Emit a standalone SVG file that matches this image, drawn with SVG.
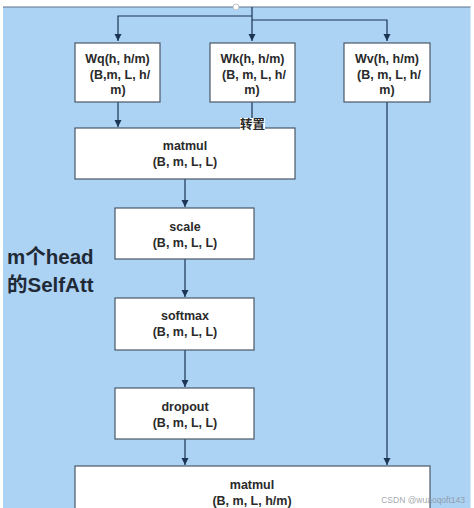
<svg xmlns="http://www.w3.org/2000/svg" width="474" height="508" viewBox="0 0 474 508">
<defs>
<marker id="arr" markerWidth="8" markerHeight="8" refX="7" refY="4" orient="auto" markerUnits="userSpaceOnUse">
<path d="M0,0.5 L7,4 L0,7.5 z" fill="#1c3553"/>
</marker>
<style>
.box{fill:#ffffff;stroke:#4a5866;stroke-width:1.2}
.t{font-family:"Liberation Sans",Arial,"Noto Sans CJK SC",sans-serif;font-weight:bold;font-size:12.5px;fill:#2a2a2a;text-anchor:middle}
.c{fill:none;stroke:#1c3553;stroke-width:1.2}
.big{font-family:"Liberation Sans",Arial,"Noto Sans CJK SC",sans-serif;font-weight:bold;font-size:20.5px;fill:#1f2a36}
</style>
</defs>
<rect x="0" y="0" width="474" height="508" fill="#ffffff"/>
<rect x="3" y="7" width="467.5" height="501" fill="#acd2f4"/>
<line x1="3" y1="7" x2="470.5" y2="7" stroke="#5f7387" stroke-width="1.2"/>
<circle cx="236" cy="7" r="3" fill="#ffffff" stroke="#b0b8c0" stroke-width="0.8"/>

<g id="connectors">
<path class="c" d="M252,7 V41" marker-end="url(#arr)"/>
<path class="c" d="M252,16 H118 V41" marker-end="url(#arr)"/>
<path class="c" d="M252,20 H387 V41" marker-end="url(#arr)"/>
<path class="c" d="M118,102 V127" marker-end="url(#arr)"/>
<path class="c" d="M252,102 V118"/>
<path class="c" d="M185,179 V207" marker-end="url(#arr)"/>
<path class="c" d="M185,259 V297" marker-end="url(#arr)"/>
<path class="c" d="M185,350 V387" marker-end="url(#arr)"/>
<path class="c" d="M185,439 V465" marker-end="url(#arr)"/>
<path class="c" d="M387,102 V465" marker-end="url(#arr)"/>
</g>

<g id="wq">
<rect class="box" x="75" y="43" width="85" height="59"/>
<text class="t" x="117.5" y="63">Wq(h, h/m)</text>
<text class="t" x="120" y="79">(B,m, L, h/</text>
<text class="t" x="118" y="94">m)</text>
</g>
<g id="wk">
<rect class="box" x="210" y="43" width="85" height="59"/>
<text class="t" x="252.5" y="63">Wk(h, h/m)</text>
<text class="t" x="254" y="79">(B, m, L, h/</text>
<text class="t" x="252" y="94">m)</text>
</g>
<g id="wv">
<rect class="box" x="344" y="43" width="86" height="59"/>
<text class="t" x="387" y="63">Wv(h, h/m)</text>
<text class="t" x="389" y="79">(B, m, L, h/</text>
<text class="t" x="387" y="94">m)</text>
</g>
<g id="matmul1">
<rect class="box" x="75" y="128" width="220" height="51"/>
<text class="t" x="185" y="150">matmul</text>
<text class="t" x="185" y="166">(B, m, L, L)</text>
</g>
<g id="transpose">
<rect x="240" y="118" width="25" height="13" fill="#ffffff"/>
<text class="t" x="252.5" y="129">转置</text>
</g>
<g id="scale">
<rect class="box" x="115" y="208" width="139" height="51"/>
<text class="t" x="185" y="231">scale</text>
<text class="t" x="185" y="247">(B, m, L, L)</text>
</g>
<g id="softmax">
<rect class="box" x="115" y="298" width="139" height="52"/>
<text class="t" x="185" y="320">softmax</text>
<text class="t" x="185" y="336">(B, m, L, L)</text>
</g>
<g id="dropout">
<rect class="box" x="115" y="388" width="139" height="51"/>
<text class="t" x="185" y="411">dropout</text>
<text class="t" x="185" y="427">(B, m, L, L)</text>
</g>
<g id="matmul2">
<rect class="box" x="75" y="466" width="355" height="48"/>
<text class="t" x="252" y="489">matmul</text>
<text class="t" x="252" y="505">(B, m, L, h/m)</text>
</g>
<g id="label">
<text class="big" x="7" y="264">m个head</text>
<text class="big" x="7" y="292">的SelfAtt</text>
</g>
<text x="465" y="503" font-family="'Liberation Sans',Arial,sans-serif" font-size="8.5px" fill="#8a8f96" fill-opacity="0.8" text-anchor="end">CSDN @wuaoqoft143</text>
</svg>
